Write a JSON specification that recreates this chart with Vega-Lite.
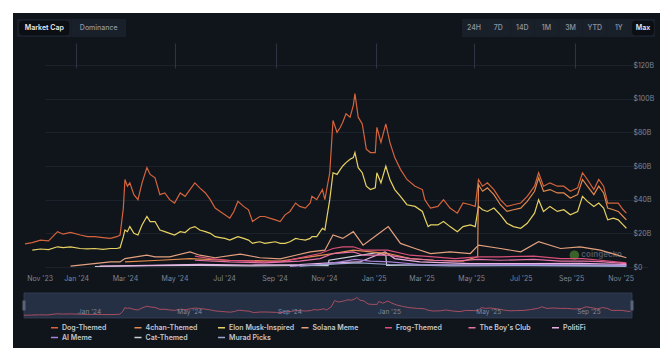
{
  "$schema": "https://vega.github.io/schema/vega-lite/v6.json",
  "width": 647,
  "height": 335,
  "autosize": {"type": "none"},
  "padding": {"left": 13, "top": 13, "right": 12, "bottom": 9},
  "background": "white",
  "config": {"font": "Inter", "view": {"fill": "#10141b", "stroke": null}},
  "datasets": {
    "names": [
      {"k": "dog", "name": "Dog-Themed"},
      {"k": "c4", "name": "4chan-Themed"},
      {"k": "elon", "name": "Elon Musk-Inspired"},
      {"k": "sol", "name": "Solana Meme"},
      {"k": "frog", "name": "Frog-Themed"},
      {"k": "boys", "name": "The Boy's Club"},
      {"k": "pol", "name": "PolitiFi"},
      {"k": "ai", "name": "AI Meme"},
      {"k": "cat", "name": "Cat-Themed"},
      {"k": "murad", "name": "Murad Picks"}
    ],
    "mc": [
      {"d": "2023-10-30", "dog": 13.7},
      {"d": "2023-11-08", "dog": 14.5, "elon": 10},
      {"d": "2023-11-18", "dog": 16, "elon": 10.7},
      {"d": "2023-11-28", "dog": 15.5, "elon": 10.3},
      {"d": "2023-12-09", "dog": 21, "elon": 12},
      {"d": "2023-12-16", "dog": 19.5, "elon": 11.5},
      {"d": "2023-12-25", "dog": 20.5, "elon": 12, "sol": 0.5},
      {"d": "2024-01-06", "dog": 19, "elon": 11},
      {"d": "2024-01-15", "dog": 18, "elon": 10.8},
      {"d": "2024-01-24", "dog": 18, "elon": 11, "cat": 0.3},
      {"d": "2024-01-30", "pol": 0.5},
      {"d": "2024-02-03", "dog": 17.5, "elon": 10.5},
      {"d": "2024-02-12", "dog": 17, "elon": 11, "sol": 3},
      {"d": "2024-02-20", "dog": 18, "elon": 11},
      {"d": "2024-02-24", "dog": 19, "elon": 11.5, "sol": 3},
      {"d": "2024-02-28", "dog": 35, "elon": 18},
      {"d": "2024-03-01", "dog": 52, "elon": 22, "sol": 5, "c4": 3},
      {"d": "2024-03-04", "dog": 48, "elon": 21},
      {"d": "2024-03-07", "dog": 50, "elon": 24},
      {"d": "2024-03-12", "dog": 43, "elon": 20},
      {"d": "2024-03-17", "dog": 40, "elon": 19},
      {"d": "2024-03-22", "dog": 50, "elon": 25},
      {"d": "2024-03-28", "dog": 59, "elon": 30, "sol": 7},
      {"d": "2024-04-01", "dog": 55, "elon": 27, "pol": 1, "cat": 0.8},
      {"d": "2024-04-07", "dog": 53, "elon": 27, "sol": 6},
      {"d": "2024-04-13", "dog": 43, "elon": 22, "c4": 4},
      {"d": "2024-04-19", "dog": 44, "elon": 21},
      {"d": "2024-04-25", "dog": 40, "elon": 20, "sol": 6},
      {"d": "2024-05-01", "dog": 38, "elon": 19},
      {"d": "2024-05-08", "dog": 44, "elon": 21},
      {"d": "2024-05-14", "dog": 42, "elon": 20.5},
      {"d": "2024-05-20", "dog": 46, "elon": 23, "sol": 9, "c4": 5},
      {"d": "2024-05-26", "dog": 50, "elon": 24, "frog": 6.5, "boys": 4},
      {"d": "2024-06-01", "dog": 47, "elon": 22, "sol": 7, "pol": 1.5, "cat": 1},
      {"d": "2024-06-08", "dog": 44, "elon": 21},
      {"d": "2024-06-14", "dog": 40, "elon": 20, "frog": 5},
      {"d": "2024-06-20", "dog": 35, "elon": 18, "sol": 5.5},
      {"d": "2024-06-26", "dog": 33, "elon": 17.5},
      {"d": "2024-07-02", "dog": 31, "elon": 17, "c4": 4},
      {"d": "2024-07-08", "dog": 29, "elon": 16, "frog": 4, "boys": 3},
      {"d": "2024-07-13", "dog": 33, "elon": 17},
      {"d": "2024-07-18", "dog": 39, "elon": 18},
      {"d": "2024-07-21", "sol": 7.7},
      {"d": "2024-07-25", "dog": 36, "elon": 17},
      {"d": "2024-07-31", "dog": 34, "elon": 16},
      {"d": "2024-08-02", "frog": 3.5, "pol": 1.2, "cat": 0.7},
      {"d": "2024-08-05", "dog": 27, "elon": 14},
      {"d": "2024-08-08", "dog": 28, "elon": 14.5},
      {"d": "2024-08-14", "dog": 30, "elon": 15, "sol": 5.5},
      {"d": "2024-08-20", "dog": 30, "elon": 14, "frog": 3, "boys": 2.5},
      {"d": "2024-08-26", "dog": 29, "elon": 14.5},
      {"d": "2024-09-02", "dog": 28, "elon": 15},
      {"d": "2024-09-08", "dog": 27, "elon": 14, "sol": 4.8, "c4": 3.5},
      {"d": "2024-09-14", "dog": 31, "elon": 14, "frog": 3.5},
      {"d": "2024-09-20", "dog": 33, "elon": 15, "ai": 0.3},
      {"d": "2024-09-27", "dog": 38, "elon": 17, "sol": 7},
      {"d": "2024-10-02", "dog": 36, "elon": 16.5, "frog": 5.4, "boys": 3.5, "pol": 1.5, "cat": 0.9, "murad": 0.5},
      {"d": "2024-10-09", "dog": 35, "elon": 16},
      {"d": "2024-10-15", "dog": 38, "elon": 17, "sol": 9},
      {"d": "2024-10-17", "dog": 42, "elon": 18},
      {"d": "2024-10-23", "dog": 40, "elon": 18},
      {"d": "2024-10-27", "frog": 8, "boys": 5, "ai": 1.5},
      {"d": "2024-10-30", "dog": 46, "elon": 23},
      {"d": "2024-11-02", "dog": 40, "elon": 22, "sol": 10},
      {"d": "2024-11-06", "cat": 0.8},
      {"d": "2024-11-07", "cat": 4},
      {"d": "2024-11-08", "dog": 56, "elon": 40, "pol": 2.5},
      {"d": "2024-11-12", "dog": 87, "elon": 56, "sol": 19, "frog": 11, "boys": 8, "c4": 8},
      {"d": "2024-11-17", "dog": 80, "elon": 55},
      {"d": "2024-11-21", "dog": 83, "elon": 58, "ai": 3, "murad": 2},
      {"d": "2024-11-24", "dog": 86, "elon": 60, "sol": 17, "frog": 12},
      {"d": "2024-11-28", "dog": 91, "elon": 62},
      {"d": "2024-12-03", "dog": 89, "elon": 64, "cat": 6},
      {"d": "2024-12-07", "dog": 96, "elon": 65, "sol": 21, "frog": 12, "boys": 9, "c4": 10},
      {"d": "2024-12-09", "dog": 103, "elon": 68, "ai": 4.5},
      {"d": "2024-12-13", "dog": 89, "elon": 59},
      {"d": "2024-12-15", "pol": 3, "murad": 2.5},
      {"d": "2024-12-18", "dog": 85, "elon": 56},
      {"d": "2024-12-19", "sol": 13, "frog": 10, "boys": 7},
      {"d": "2024-12-23", "dog": 70, "elon": 48},
      {"d": "2024-12-28", "dog": 68, "elon": 46, "ai": 3.5},
      {"d": "2025-01-03", "dog": 68, "elon": 47},
      {"d": "2025-01-05", "dog": 83, "elon": 56, "sol": 19, "cat": 8.5},
      {"d": "2025-01-10", "dog": 74, "elon": 50},
      {"d": "2025-01-15", "pol": 9},
      {"d": "2025-01-16", "dog": 85, "elon": 60, "cat": 7},
      {"d": "2025-01-17", "cat": 1},
      {"d": "2025-01-18", "frog": 10, "boys": 7},
      {"d": "2025-01-19", "sol": 24, "c4": 8},
      {"d": "2025-01-21", "dog": 74, "elon": 52, "ai": 3, "murad": 1.5},
      {"d": "2025-01-27", "dog": 65, "elon": 46, "pol": 5},
      {"d": "2025-02-03", "dog": 58, "elon": 42, "sol": 14},
      {"d": "2025-02-11", "dog": 52, "elon": 37},
      {"d": "2025-02-15", "frog": 7, "boys": 5, "c4": 5},
      {"d": "2025-02-21", "dog": 48, "elon": 36, "sol": 11},
      {"d": "2025-02-27", "pol": 3, "ai": 1.5, "cat": 1.2},
      {"d": "2025-03-02", "dog": 46, "elon": 33},
      {"d": "2025-03-05", "dog": 40, "elon": 29},
      {"d": "2025-03-09", "dog": 37, "elon": 24},
      {"d": "2025-03-12", "dog": 35, "elon": 25, "sol": 8},
      {"d": "2025-03-16", "frog": 6, "boys": 4, "c4": 4},
      {"d": "2025-03-21", "dog": 36, "elon": 25},
      {"d": "2025-03-28", "dog": 40, "elon": 27},
      {"d": "2025-04-05", "dog": 35, "elon": 24, "sol": 9, "murad": 0.6},
      {"d": "2025-04-11", "frog": 5, "boys": 3.5},
      {"d": "2025-04-14", "dog": 32, "elon": 21},
      {"d": "2025-04-21", "dog": 38, "elon": 24, "c4": 3.5},
      {"d": "2025-04-30", "dog": 37, "elon": 25, "sol": 8, "pol": 2, "ai": 1.2},
      {"d": "2025-05-06", "dog": 36, "elon": 24},
      {"d": "2025-05-09", "frog": 6, "boys": 4.5, "c4": 6},
      {"d": "2025-05-10", "dog": 52, "elon": 36, "sol": 13, "c4": 49},
      {"d": "2025-05-15", "dog": 48, "elon": 34, "c4": 45},
      {"d": "2025-05-21", "dog": 50, "elon": 33, "c4": 47},
      {"d": "2025-05-29", "dog": 46, "elon": 35, "c4": 43},
      {"d": "2025-06-06", "dog": 40, "elon": 31, "c4": 37, "sol": 11, "frog": 6, "boys": 4},
      {"d": "2025-06-14", "dog": 36, "elon": 26, "c4": 33},
      {"d": "2025-06-22", "dog": 37, "elon": 24, "c4": 34},
      {"d": "2025-07-01", "dog": 38, "elon": 23, "c4": 35, "sol": 9},
      {"d": "2025-07-09", "dog": 42, "elon": 26, "c4": 39},
      {"d": "2025-07-13", "pol": 2, "ai": 1.5, "murad": 0.8},
      {"d": "2025-07-17", "frog": 6.5, "boys": 4.5},
      {"d": "2025-07-18", "dog": 48, "elon": 32, "c4": 45},
      {"d": "2025-07-23", "dog": 56, "elon": 40, "c4": 53, "sol": 15},
      {"d": "2025-07-29", "dog": 48, "elon": 33, "c4": 45},
      {"d": "2025-08-06", "dog": 50, "elon": 36, "c4": 46},
      {"d": "2025-08-15", "dog": 48, "elon": 33, "c4": 44},
      {"d": "2025-08-19", "sol": 11, "frog": 5, "boys": 3.5},
      {"d": "2025-08-23", "dog": 48, "elon": 34, "c4": 44},
      {"d": "2025-08-31", "dog": 45, "elon": 31, "c4": 41},
      {"d": "2025-09-09", "dog": 47, "elon": 33, "c4": 43},
      {"d": "2025-09-12", "sol": 12, "pol": 2.2, "ai": 1.3},
      {"d": "2025-09-15", "dog": 56, "elon": 42, "c4": 52},
      {"d": "2025-09-16", "frog": 5, "boys": 3.5},
      {"d": "2025-09-21", "dog": 52, "elon": 39, "c4": 48},
      {"d": "2025-09-29", "dog": 46, "elon": 36, "c4": 43},
      {"d": "2025-10-05", "dog": 52, "elon": 38, "c4": 48},
      {"d": "2025-10-07", "sol": 10, "frog": 4, "boys": 3.2},
      {"d": "2025-10-11", "dog": 48, "elon": 35, "c4": 44},
      {"d": "2025-10-16", "dog": 38, "elon": 28, "c4": 35},
      {"d": "2025-10-23", "dog": 38, "elon": 29, "c4": 34},
      {"d": "2025-10-29", "dog": 38, "elon": 28, "c4": 33},
      {"d": "2025-11-04", "dog": 34, "elon": 25, "c4": 30},
      {"d": "2025-11-08", "dog": 32, "elon": 23, "c4": 28, "sol": 5.5, "frog": 2.5, "boys": 2, "pol": 1.5, "ai": 1, "cat": 1, "murad": 0.4}
    ]
  },
  "layer": [
    {
      "data": {"values": [{"b": "Market Cap", "a": 1}, {"b": "Dominance", "a": 0}]},
      "encoding": {
        "x": {"field": "b", "type": "nominal", "sort": null, "scale": {"type": "band", "domain": ["Market Cap", "Dominance"], "range": [4, 113], "paddingInner": 0, "paddingOuter": 0}, "axis": null},
        "y": {"datum": "h", "type": "nominal", "scale": {"type": "band", "domain": ["h"], "range": [6, 24], "paddingInner": 0, "paddingOuter": 0}, "axis": null}
      },
      "layer": [
        {"mark": {"type": "rect", "fill": "#1a2029"}},
        {"transform": [{"filter": "datum.a == 1"}], "mark": {"type": "rect", "fill": "#0b0e13", "cornerRadius": 3, "width": {"band": 0.92}, "height": {"band": 0.8}}},
        {"transform": [{"filter": "datum.a == 1"}], "mark": {"type": "text", "fontSize": 7, "fontWeight": 600, "color": "#e8ebf0"}, "encoding": {"text": {"field": "b"}}},
        {"transform": [{"filter": "datum.a == 0"}], "mark": {"type": "text", "fontSize": 7, "fontWeight": 500, "color": "#8e97a5"}, "encoding": {"text": {"field": "b"}}}
      ]
    },
    {
      "data": {"values": [{"b": "24H", "a": 0}, {"b": "7D", "a": 0}, {"b": "14D", "a": 0}, {"b": "1M", "a": 0}, {"b": "3M", "a": 0}, {"b": "YTD", "a": 0}, {"b": "1Y", "a": 0}, {"b": "Max", "a": 1}]},
      "encoding": {
        "x": {"field": "b", "type": "nominal", "sort": null, "scale": {"type": "band", "domain": ["24H", "7D", "14D", "1M", "3M", "YTD", "1Y", "Max"], "range": [449, 642], "paddingInner": 0, "paddingOuter": 0}, "axis": null},
        "y": {"datum": "h", "type": "nominal", "scale": {"type": "band", "domain": ["h"], "range": [6, 24], "paddingInner": 0, "paddingOuter": 0}, "axis": null}
      },
      "layer": [
        {"mark": {"type": "rect", "fill": "#1a2029"}},
        {"transform": [{"filter": "datum.a == 1"}], "mark": {"type": "rect", "fill": "#0b0e13", "cornerRadius": 3, "width": {"band": 0.9}, "height": {"band": 0.8}}},
        {"transform": [{"filter": "datum.a == 1"}], "mark": {"type": "text", "fontSize": 7, "fontWeight": 600, "color": "#e8ebf0"}, "encoding": {"text": {"field": "b"}}},
        {"transform": [{"filter": "datum.a == 0"}], "mark": {"type": "text", "fontSize": 7, "fontWeight": 500, "color": "#8e97a5"}, "encoding": {"text": {"field": "b"}}}
      ]
    },
    {
      "layer": [
        {
          "data": {"values": [{}]},
          "mark": {"type": "point", "filled": true, "size": 90, "color": "#3f6a2c", "opacity": 0.9},
          "encoding": {
            "x": {"datum": {"year": 2025, "month": "sep", "date": 5, "utc": true}, "type": "temporal"},
            "y": {"datum": 7}
          }
        },
        {
          "data": {"values": [{}]},
          "mark": {"type": "text", "text": "coingecko", "fontSize": 8, "fontWeight": 700, "color": "#4a5361", "align": "left", "baseline": "middle", "dx": 7},
          "encoding": {
            "x": {"datum": {"year": 2025, "month": "sep", "date": 5, "utc": true}, "type": "temporal"},
            "y": {"datum": 7}
          }
        },
        {
          "data": {"name": "mc"},
          "transform": [
            {"fold": ["dog", "c4", "elon", "sol", "frog", "boys", "pol", "ai", "cat", "murad"], "as": ["k", "v"]},
            {"filter": "isValid(datum.v)"},
            {"lookup": "k", "from": {"data": {"name": "names"}, "key": "k", "fields": ["name"]}}
          ],
          "mark": {"type": "line", "strokeWidth": 1.2},
          "encoding": {
            "x": {
              "field": "d", "type": "temporal",
              "scale": {"domain": [{"year": 2023, "month": "oct", "date": 30, "utc": true}, {"year": 2025, "month": "nov", "date": 10, "utc": true}], "range": [12, 615]},
              "axis": {"orient": "bottom", "offset": -76, "title": null, "format": "%b '%y", "tickCount": {"interval": "month", "step": 2}, "labelFlush": 5, "domain": false, "ticks": false, "grid": false, "labelColor": "#7d8696", "labelFontSize": 7, "labelPadding": 2}
            },
            "y": {
              "field": "v", "type": "quantitative",
              "scale": {"domain": [0, 120], "range": [254, 52], "nice": false},
              "axis": {"orient": "right", "offset": -28, "title": null, "values": [0, 20, 40, 60, 80, 100, 120], "labelExpr": "datum.value == 0 ? '$0' : '$' + datum.value + 'B'", "domain": false, "ticks": false, "grid": true, "gridColor": "#1c222c", "gridWidth": 1, "labelColor": "#7d8696", "labelFontSize": 7, "labelPadding": 1, "labelAlign": "left"}
            },
            "color": {
              "field": "name", "type": "nominal",
              "scale": {
                "domain": ["Dog-Themed", "4chan-Themed", "Elon Musk-Inspired", "Solana Meme", "Frog-Themed", "The Boy's Club", "PolitiFi", "AI Meme", "Cat-Themed", "Murad Picks"],
                "range": ["#d4643c", "#e08a4e", "#e6d263", "#e3a07e", "#d9507a", "#e572a8", "#eab0e4", "#a982d9", "#c9cdd5", "#9ba7cf"]
              },
              "legend": {"orient": "none", "legendX": 37, "legendY": 310, "title": null, "direction": "horizontal", "columns": 7, "gridAlign": "all", "columnPadding": 2.5, "rowPadding": 2, "symbolType": "stroke", "symbolSize": 50, "symbolStrokeWidth": 1.5, "labelFontSize": 7, "labelFontWeight": 600, "labelColor": "#c3c8d1", "labelOffset": 3, "padding": 0}
            }
          }
        }
      ]
    },
    {
      "layer": [
        {
          "data": {"values": [{}]},
          "mark": {"type": "rect", "fill": "#263044", "stroke": "#384358", "strokeWidth": 0.8},
          "encoding": {
            "x": {
              "datum": {"year": 2023, "month": "oct", "date": 30, "utc": true}, "type": "temporal",
              "scale": {"domain": [{"year": 2023, "month": "oct", "date": 30, "utc": true}, {"year": 2025, "month": "nov", "date": 10, "utc": true}], "range": [11, 619]},
              "axis": {"orient": "bottom", "offset": -30, "zindex": 1, "title": null, "format": "%b '%y", "tickCount": {"interval": "month", "step": 4}, "domain": false, "ticks": false, "grid": true, "gridColor": "#3d475b", "gridWidth": 0.8, "gridOpacity": 0.8, "labelAlign": "left", "labelBaseline": "alphabetic", "labelPadding": -5, "labelOffset": 2, "labelColor": "#7f889a", "labelFontSize": 6.5}
            },
            "x2": {"datum": {"year": 2025, "month": "nov", "date": 10, "utc": true}},
            "y": {"datum": 0, "type": "quantitative", "scale": {"domain": [0, 125], "range": [305, 280], "nice": false}, "axis": null},
            "y2": {"datum": 125}
          }
        },
        {
          "data": {"name": "mc"},
          "transform": [{"filter": "isValid(datum.dog)"}],
          "mark": {"type": "line", "stroke": "#a64e60", "strokeWidth": 1},
          "encoding": {
            "x": {"field": "d", "type": "temporal"},
            "y": {"field": "dog", "type": "quantitative"}
          }
        },
        {
          "data": {"values": [{}]},
          "mark": {"type": "point", "filled": true, "shape": "M-0.3,-1L0.3,-1L0.3,1L-0.3,1Z", "size": 100, "color": "#5a6479", "opacity": 1},
          "encoding": {
            "x": {"datum": {"year": 2023, "month": "oct", "date": 30, "utc": true}, "type": "temporal"},
            "y": {"datum": 62.5}
          }
        },
        {
          "data": {"values": [{}]},
          "mark": {"type": "point", "filled": true, "shape": "M-0.3,-1L0.3,-1L0.3,1L-0.3,1Z", "size": 100, "color": "#5a6479", "opacity": 1},
          "encoding": {
            "x": {"datum": {"year": 2025, "month": "nov", "date": 10, "utc": true}, "type": "temporal"},
            "y": {"datum": 62.5}
          }
        }
      ]
    }
  ],
  "resolve": {"scale": {"x": "independent", "y": "independent"}, "axis": {"x": "independent", "y": "independent"}}
}
